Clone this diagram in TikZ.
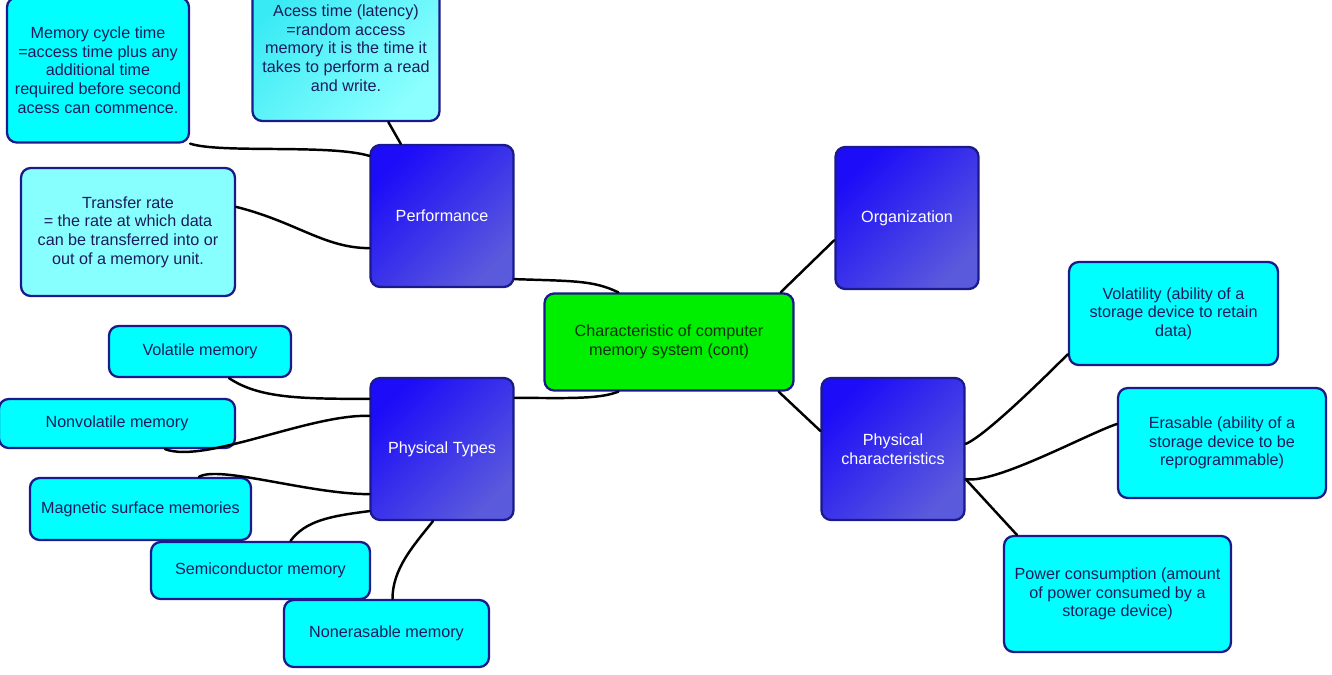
\documentclass[tikz,border=0pt]{standalone}
\usepackage{fontspec}
\setmainfont{Liberation Sans}
\usetikzlibrary{calc}
\definecolor{boxline}{HTML}{1A1A8A}
\definecolor{cyanbox}{HTML}{00FFFF}
\definecolor{paleblue}{HTML}{88FFFF}
\definecolor{accA}{HTML}{38EAF4}
\definecolor{accB}{HTML}{8CFFFF}
\definecolor{bluetop}{HTML}{1C0CF8}
\definecolor{bluebot}{HTML}{5A5ADC}
\definecolor{greenbox}{HTML}{00EE00}
\definecolor{leaftext}{HTML}{1C1C5C}
\definecolor{maintext}{HTML}{103010}

\begin{document}
\begin{tikzpicture}[x=0.02cm,y=-0.02cm,
    box/.style={draw=boxline,line width=1.3pt,rounded corners=5.5pt,align=center,inner sep=2pt,font=\fontsize{9.2}{10.6}\selectfont},
    leaf/.style={box,fill=cyanbox,text=leaftext},
    topic/.style={box,top color=bluetop,bottom color=bluebot,shading angle=45,text=white,minimum width=2.86cm,minimum height=2.84cm},
    link/.style={line width=1.4pt,line cap=round}]
      \useasboundingbox (0,0) rectangle (1332,674);
      \node[leaf,minimum width=3.64cm,minimum height=2.9cm] (memcyc) at (98,70) {Memory cycle time\\=access time plus any\\additional time\\required before second\\acess can commence.};
      \node[box,text=leaftext,top color=accA,bottom color=accB,shading angle=45,minimum width=3.74cm,minimum height=2.92cm] (access) at (346,48) {Acess time (latency)\\=random access\\memory it is the time it\\takes to perform a read\\and write.};
      \node[leaf,fill=paleblue,minimum width=4.28cm,minimum height=2.56cm] (transfer) at (128,232) {Transfer rate\\= the rate at which data\\can be transferred into or\\out of a memory unit.};
      \node[topic] (perf) at (442,216) {Performance};
      \node[topic] (org) at (907,218) {Organization};
      \node[box,fill=greenbox,text=maintext,minimum width=4.98cm,minimum height=1.94cm] (main) at (669,342) {Characteristic of computer\\memory system (cont)};
      \node[topic] (phch) at (893,449) {Physical\\characteristics};
      \node[topic] (phty) at (442,449) {Physical Types};
      \node[leaf,minimum width=3.64cm,minimum height=1.02cm] (vol) at (200,351.5) {Volatile memory};
      \node[leaf,minimum width=4.72cm,minimum height=0.98cm] (nonvol) at (117,423.5) {Nonvolatile memory};
      \node[leaf,minimum width=4.42cm,minimum height=1.24cm] (mag) at (140.5,509) {Magnetic surface memories};
      \node[leaf,minimum width=4.38cm,minimum height=1.14cm] (semi) at (260.5,570.5) {Semiconductor memory};
      \node[leaf,minimum width=4.1cm,minimum height=1.34cm] (noner) at (386.5,633.5) {Nonerasable memory};
      \node[leaf,minimum width=4.18cm,minimum height=2.06cm] (vlty) at (1173.5,313.5) {Volatility (ability of a\\storage device to retain\\data)};
      \node[leaf,minimum width=4.16cm,minimum height=2.2cm] (eras) at (1222,443) {Erasable (ability of a\\storage device to be\\reprogrammable)};
      \node[leaf,minimum width=4.54cm,minimum height=2.32cm] (power) at (1117.5,594) {Power consumption (amount\\of power consumed by a\\storage device)};
      \draw[link] (memcyc.south east) .. controls +(30,10) and +(-40,-12) .. ($(perf.north west)+(0,12)$);
      \draw[link] (access) -- (perf);
      \draw[link] ($(transfer.north east)+(0,40)$) .. controls +(60,15) and +(-45,0) .. ($(perf.south west)+(0,-40)$);
      \draw[link] ($(perf.south east)+(0,-9)$) .. controls +(60,2) and +(-25,-12) .. ($(main.north west)+(75,0)$);
      \draw[link] ($(main.north east)+(-14,0)$) -- ($(org.south west)+(0,-50)$);
      \draw[link] ($(main.south east)+(-16,0)$) -- ($(phch.north west)+(0,54)$);
      \draw[link] ($(main.south west)+(75,0)$) .. controls +(-20,8) and +(50,0) .. ($(phty.north east)+(0,21)$);
      \draw[link] ($(phty.north west)+(0,22)$) .. controls +(-70,0) and +(30,20) .. ($(vol.south)+(29,0)$);
      \draw[link] ($(phty.north west)+(0,39)$) .. controls +(-60,-2) and +(40,15) .. ($(nonvol.south)+(48,0)$);
      \draw[link] ($(phty.south west)+(0,-27)$) .. controls +(-60,0) and +(20,-12) .. ($(mag.north west)+(170,0)$);
      \draw[link] ($(phty.south west)+(0,-10)$) .. controls +(-40,5) and +(15,-20) .. ($(semi.north)+(30,0)$);
      \draw[link] ($(phty.south)+(-9,0)$) .. controls +(-20,25) and +(0,-30) .. ($(noner.north)+(6,0)$);
      \draw[link] ($(phch.north east)+(0,67)$) .. controls +(20,-8) and +(-20,20) .. ($(vlty.south west)+(0,-12)$);
      \draw[link] ($(phch.south east)+(0,-42)$) .. controls +(30,5) and +(-30,10) .. ($(eras.west)+(0,-19)$);
      \draw[link] ($(phch.south east)+(0,-42)$) -- ($(power.north west)+(14,0)$);
    \end{tikzpicture}
\end{document}
